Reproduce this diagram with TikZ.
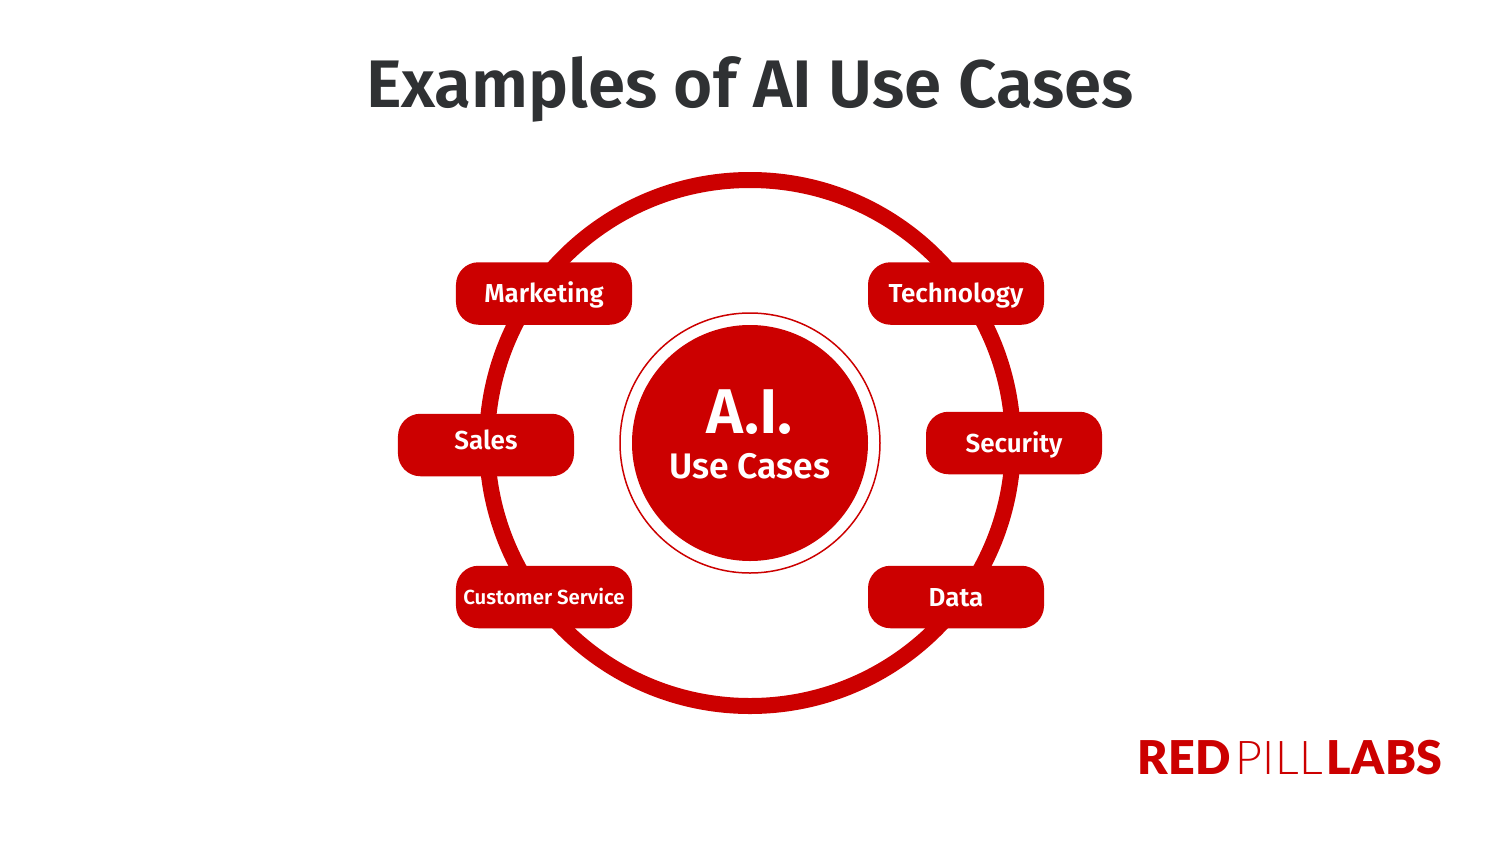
\documentclass[tikz,border=0pt]{standalone}
\usepackage{fontspec}
\setmainfont{Fira Sans}[BoldFont={Fira Sans SemiBold}]
\newfontfamily\logofont{Lato Black}
\newfontfamily\logothin{Lato Light}
\definecolor{pillred}{HTML}{CC0000}
\definecolor{titlegray}{HTML}{2F3133}
\tikzstyle{ring} = [draw=pillred, line width=0.32cm]
\tikzstyle{usecase} = [fill=pillred, text=white, rounded corners=0.45cm, minimum width=3.52cm, minimum height=1.25cm, inner sep=0pt, text height=0.36cm, text depth=0pt, font=\fontsize{14.8}{17}\selectfont\bfseries]

\begin{document}
\begin{tikzpicture}

    \useasboundingbox (-15,-8.02) rectangle (15,8.86);

    \node [anchor=base] (title) at (0,6.7) {\fontsize{38.3}{46}\selectfont\bfseries\color{titlegray}Examples of AI Use Cases};

    \node [ring, circle, minimum size=10.52cm, inner sep=0pt] (wheel) at (0,0) {};
    \node [circle, draw=pillred, line width=0.03cm, minimum size=5.2cm, inner sep=0pt] (halo) at (0,0) {};
    \node [circle, fill=pillred, minimum size=4.72cm, inner sep=0pt] (core) at (0,0) {};

\node [text=white, anchor=base] (ai) at (0,0.2) {\fontsize{36}{42}\selectfont\bfseries A.I.};
\node [text=white, anchor=base] (usecases) at (0,-0.7) {\fontsize{20.2}{24}\selectfont\bfseries Use Cases};

\node [usecase] (marketing) at (-4.12,2.99) {Marketing};
\node [usecase] (technology) at (4.12,2.99) {Technology};
\node [usecase, text depth=0.2cm] (sales) at (-5.28,-0.04) {Sales};
\node [usecase] (security) at (5.28,0) {Security};
\node [usecase, text height=0.28cm, font=\fontsize{11.6}{14}\selectfont\bfseries] (service) at (-4.12,-3.08) {Customer Service};
\node [usecase] (data) at (4.12,-3.08) {Data};

\node [text=pillred, inner sep=0pt] (logo) at (10.8,-6.3) {\fontsize{26.5}{32}\selectfont\logofont\addfontfeatures{LetterSpace=1}RED\hspace{0.08cm}\logothin\addfontfeatures{LetterSpace=1}PILL\hspace{0.08cm}\logofont\addfontfeatures{LetterSpace=1}LABS};

\end{tikzpicture}
\end{document}
